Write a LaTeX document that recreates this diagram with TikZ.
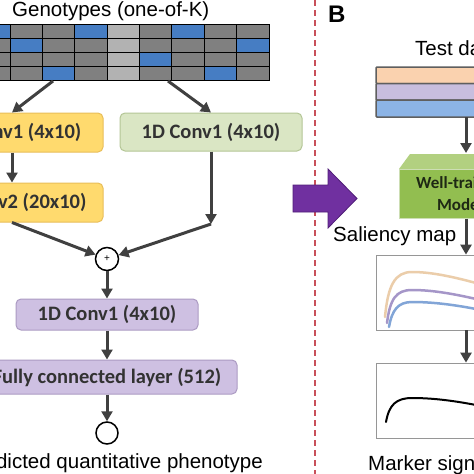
\documentclass[tikz,border=0pt]{standalone}
\usepackage{fontspec}
\setmainfont{Liberation Sans}
\newfontfamily\boxfont{Carlito}
\usetikzlibrary{arrows.meta}
\definecolor{cB}{RGB}{70,125,195}
\definecolor{cG}{RGB}{128,128,128}
\definecolor{cL}{RGB}{178,178,178}
\definecolor{arrowgray}{RGB}{64,64,64}
\definecolor{textdark}{RGB}{50,50,50}
\definecolor{yfill}{RGB}{255,218,110}
\definecolor{ydraw}{RGB}{232,190,90}
\definecolor{gfill}{RGB}{218,230,196}
\definecolor{gdraw}{RGB}{180,198,150}
\definecolor{pfill}{RGB}{206,192,226}
\definecolor{pdraw}{RGB}{172,155,195}
\definecolor{dashred}{RGB}{200,80,90}
\definecolor{bigpurple}{RGB}{112,48,160}
\definecolor{bigpurpledark}{RGB}{80,30,120}
\definecolor{barA}{RGB}{250,210,175}
\definecolor{barB}{RGB}{200,190,222}
\definecolor{barC}{RGB}{140,180,230}
\definecolor{bardraw}{RGB}{95,95,95}
\definecolor{modelfront}{RGB}{146,190,80}
\definecolor{modeltop}{RGB}{178,208,128}
\definecolor{modeledge}{RGB}{205,222,180}
\definecolor{modeltext}{RGB}{30,40,20}
\definecolor{boxgray}{RGB}{150,150,150}
\definecolor{curveA}{RGB}{235,205,170}
\definecolor{curveB}{RGB}{165,150,200}
\definecolor{curveC}{RGB}{130,165,215}
\begin{document}
\begin{tikzpicture}[x=1pt,y=-1pt,
  conn/.style={draw=arrowgray, line width=3pt, -{Triangle[length=10pt,width=11pt]}},
  lbl/.style={font=\fontsize{20.5}{24}\selectfont, text=black, inner sep=0pt},
  layerbox/.style={rounded corners=5pt, line width=1pt, inner sep=0pt,
     font=\boxfont\bfseries\fontsize{20.5}{24}\selectfont, text=textdark},
  ybox/.style={layerbox, fill=yfill, draw=ydraw, minimum width=182pt, minimum height=39pt},
  gbox/.style={layerbox, fill=gfill, draw=gdraw, minimum width=182pt, minimum height=38pt},
  pbox/.style={layerbox, fill=pfill, draw=pdraw},
  dot/.style={circle, draw=black, fill=white, line width=1.5pt, inner sep=0pt, minimum size=22pt},
  panelbox/.style={draw=boxgray, line width=0.8pt, fill=white, minimum width=180pt, minimum height=75pt, inner sep=0pt},
  curve/.style={line width=2.5pt, line cap=round}
]
\useasboundingbox (0,0) rectangle (474,474);
\clip (0,0) rectangle (474,474);
\fill[white] (0,0) rectangle (474,474);

% dashed separator
\draw[dashred, line width=2pt, dash pattern=on 6pt off 4pt] (315,0) -- (315,474);

% big purple arrow
\filldraw[fill=bigpurple, draw=bigpurpledark, line width=0.8pt]
  (293,185) -- (328,185) -- (328,169) -- (357,198.5) -- (328,228) -- (328,212) -- (293,212) -- cycle;

% ---------- panel A ----------
\node[lbl, anchor=base west] (geno) at (12,16.5) {Genotypes (one-of-K)};

\foreach \c/\ra/\rb/\rc/\rd in {-1/B/G/G/G, 0/G/B/G/G, 1/G/G/G/B, 2/B/G/G/G, 3/L/L/L/L, 4/G/G/B/G, 5/B/G/G/G, 6/G/G/G/B, 7/G/B/G/G}{
  \pgfmathsetmacro{\xa}{10+32.375*\c}
  \pgfmathsetmacro{\xb}{10+32.375*(\c+1)}
  \fill[c\ra] (\xa,24) rectangle (\xb,38);
  \fill[c\rb] (\xa,38) rectangle (\xb,52);
  \fill[c\rc] (\xa,52) rectangle (\xb,66);
  \fill[c\rd] (\xa,66) rectangle (\xb,80);
  \draw[black, line width=0.9pt] (\xa,24) rectangle (\xb,80);
}
\foreach \y in {38,52,66}{\draw[black, line width=0.9pt] (-30,\y) -- (269,\y);}
\coordinate (g1) at (53,81);
\coordinate (g2) at (168,81);

\node[ybox] (y1) at (12,132.5) {1D Conv1 (4x10)};
\node[ybox] (y2) at (12,202.5) {1D Conv2 (20x10)};
\node[gbox] (gr) at (211,132) {1D Conv1 (4x10)};
\node[dot, minimum size=23pt] (plus) at (107,259) {\fontsize{10}{10}\selectfont +};
\node[pbox, minimum width=182pt, minimum height=31pt] (p1) at (107,314.5) {1D Conv1 (4x10)};
\node[pbox, minimum width=260pt, minimum height=34pt] (p2) at (107,377) {Fully connected layer (512)};
\node[dot] (out) at (107,433) {};
\node[lbl, anchor=base east] (pred) at (263,468.5) {Predicted quantitative phenotype};
\coordinate (j) at (211,224);

\draw[conn] (g1) -- (y1.north);
\draw[conn] (g2) -- (gr.north);
\draw[conn] (y1.south) -- (y2.north);
\draw[conn] (gr.south) -- (j);
\draw[conn] (y2.south) -- (plus);
\draw[conn] (j) -- (plus);
\draw[conn] (plus) -- (p1);
\draw[conn] (p1) -- (p2);
\draw[conn] (p2) -- (out);

% ---------- panel B ----------
\node[font=\bfseries\fontsize{24}{28}\selectfont, inner sep=0pt, anchor=base west] (B) at (328,22) {B};
\node[lbl, anchor=base west] (test) at (415,55) {Test data};

\node[minimum width=180pt, minimum height=50pt, inner sep=0pt] (bars) at (466,92) {};
\draw[bardraw, line width=1.5pt, fill=barA, rounded corners=1pt] (376,67) rectangle (556,83.5);
\draw[bardraw, line width=1.5pt, fill=barB, rounded corners=1pt] (376,83.5) rectangle (556,100.2);
\draw[bardraw, line width=1.5pt, fill=barC, rounded corners=1pt] (376,100.2) rectangle (556,117);

\fill[modeltop] (399,169) -- (410,154) -- (532,154) -- (521,169) -- cycle;
\node[fill=modelfront, draw=modeledge, line width=1pt, minimum width=122pt, minimum height=49pt, inner sep=0pt,
  align=center, text=modeltext, font=\boxfont\bfseries\fontsize{17}{22}\selectfont] (model) at (460,193.5) {Well-trained\\Model};
\coordinate (mtop) at (466,153);

\node[lbl, anchor=base west] (salt) at (333,241) {Saliency map};
\node[panelbox] (sal) at (466,292.5) {};
\node[panelbox] (mk) at (466,400.5) {};
\node[lbl, anchor=base west] (mks) at (368,470) {Marker signature};

\draw[curve, curveA] (385,317) .. controls (388,285) and (395,272) .. (412,272) .. controls (430,272) and (450,276) .. (476,283);
\draw[curve, curveB] (387,323) .. controls (390,299) and (396,290) .. (412,290) .. controls (430,290) and (450,293) .. (476,299);
\draw[curve, curveC] (389,327) .. controls (392,310) and (398,302) .. (412,302) .. controls (430,302) and (450,304) .. (476,309);
\draw[line width=2pt, line cap=round, black] (386,422) .. controls (389,405) and (396,398) .. (412,398) .. controls (430,398) and (450,400) .. (476,405);

\draw[conn] (bars.south) -- (mtop);
\draw[conn] (model.south -| sal.north) -- (sal.north);
\draw[conn] (sal.south) -- (mk.north);
\end{tikzpicture}
\end{document}
